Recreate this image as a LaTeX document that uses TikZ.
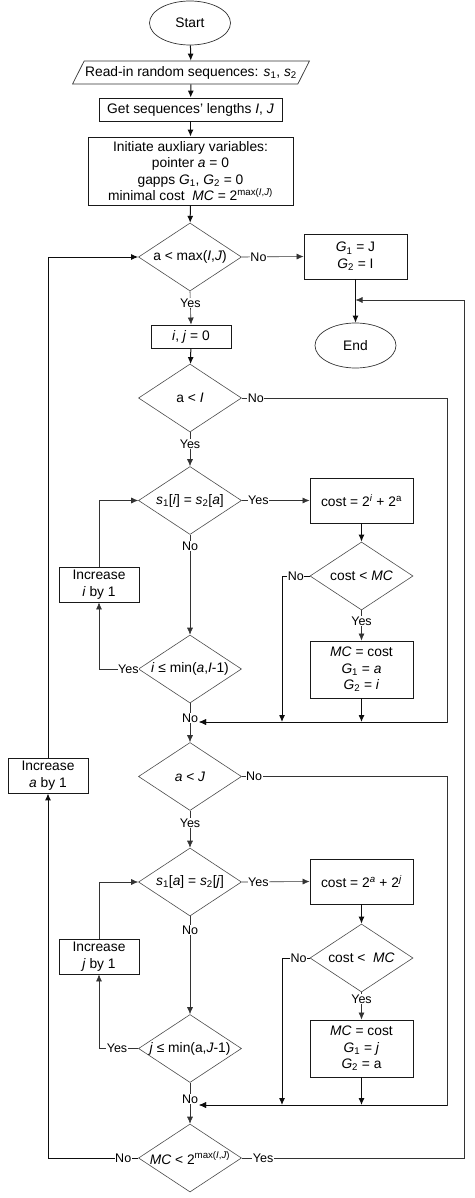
\documentclass[tikz,border=0pt]{standalone}
\usepackage{fontspec}
\setmainfont{Liberation Sans}
\usetikzlibrary{shapes.geometric,arrows.meta}
\tikzset{
  box/.style={draw=black!90, line width=0.9pt, minimum width=103pt, minimum height=45pt, align=center, inner sep=1pt},
  incbox/.style={box, minimum width=80pt, minimum height=35pt},
  dec/.style={diamond, draw=black!70, line width=0.6pt, minimum width=103pt, minimum height=68pt, inner sep=0pt},
  term/.style={ellipse, draw=black!80, line width=0.7pt, minimum width=81pt, minimum height=44pt},
  lbl/.style={fill=white, inner sep=0.6pt, font=\fontsize{12.5}{12.5}\selectfont},
  con/.style={draw=black!80, line width=0.6pt, -{Latex[length=7pt,width=6pt]}},
  thk/.style={con, draw=black!95, line width=1pt}
}
\begin{document}
\begin{tikzpicture}[x=1pt, y=-1pt, font=\fontsize{13.8}{16.5}\selectfont]
  \useasboundingbox (0,0) rectangle (474,1198);

  \node[term] (start) at (190,23) {Start};
  \node[trapezium, trapezium left angle=48, trapezium right angle=132, trapezium stretches body,
        draw=black!80, line width=0.7pt, minimum height=23pt, inner xsep=1pt, inner ysep=0pt] (read) at (191,72.5)
        {Read-in random sequences: \textit{s}\textsubscript{1}, \textit{s}\textsubscript{2}};
  \node[box, minimum width=183pt, minimum height=23pt] (len) at (190.5,109.5) {Get sequences' lengths \textit{I}, \textit{J}};
  \node[box, minimum width=205pt, minimum height=68pt] (init) at (190.5,171)
        {Initiate auxliary variables:\\ pointer \textit{a} = 0\\ gapps \textit{G}\textsubscript{1}, \textit{G}\textsubscript{2} = 0\\
         minimal cost~~\textit{MC} = 2\textsuperscript{max(\textit{I},\textit{J})}};
  \node[dec, label=center:{a < max(\textit{I},\textit{J})}] (d1) at (190,257) {};
  \node[box] (gset) at (355.5,256.5) {\textit{G}\textsubscript{1} = J\\ \textit{G}\textsubscript{2} = I};
  \node[term, minimum height=45pt] (end) at (355.5,345.5) {End};
  \node[box, minimum width=80pt, minimum height=23pt] (ij) at (191,336.5) {\textit{i}, \textit{j} = 0};

  \node[dec, label=center:{a < \textit{I}}] (d2) at (190,398) {};
  \node[dec, label=center:{\textit{s}\textsubscript{1}[\textit{i}] = \textit{s}\textsubscript{2}[\textit{a}]}] (d3) at (190,500.5) {};
  \node[box] (cost1) at (361.5,500.5) {cost = 2\textsuperscript{\textit{i}} + 2\textsuperscript{a}};
  \node[dec, label=center:{cost < \textit{MC}}] (d4) at (361.5,576) {};
  \node[box, minimum height=57pt] (upd1) at (361.5,669.5) {\textit{MC} = cost\\ \textit{G}\textsubscript{1} = \textit{a}\\ \textit{G}\textsubscript{2} = \textit{i}};
  \node[incbox] (inci) at (99,584.5) {Increase\\ \textit{i} by 1};
  \node[dec, label=center:{\textit{i} ≤ min(\textit{a},\textit{I}-1)}] (d5) at (190,669) {};

  \node[dec, label=center:{\textit{a} < \textit{J}}] (d6) at (190,776.5) {};
  \node[incbox] (inca) at (48,775.5) {Increase\\ \textit{a} by 1};
  \node[dec, label=center:{\textit{s}\textsubscript{1}[\textit{a}] = \textit{s}\textsubscript{2}[\textit{j}]}] (d7) at (190,882) {};
  \node[box] (cost2) at (361.5,881.5) {cost = 2\textsuperscript{\textit{a}} + 2\textsuperscript{\textit{j}}};
  \node[dec, label=center:{cost <~~\textit{MC}}] (d8) at (361.5,958) {};
  \node[box, minimum height=57pt] (upd2) at (361.5,1048.5) {\textit{MC} = cost\\ \textit{G}\textsubscript{1} = \textit{j}\\ \textit{G}\textsubscript{2} = a};
  \node[incbox] (incj) at (99,956.5) {Increase\\ \textit{j} by 1};
  \node[dec, label=center:{\textit{j} ≤ min(a,\textit{J}-1)}] (d9) at (190,1048.5) {};
  \node[dec, label=center:{\textit{MC} < 2\textsuperscript{max(\textit{I},\textit{J})}}] (dF) at (190,1158) {};

  \coordinate (m1) at (199,722);  \coordinate (r1) at (447,722);  \coordinate (e1) at (282,722);
  \coordinate (m2) at (199,1105); \coordinate (r2) at (447,1105); \coordinate (e2) at (282,1105);
  \coordinate (loopR) at (464,1158); \coordinate (join) at (355.5,300);

  \draw[thk] (start) -- (read);
  \draw[thk] (read) -- (len);
  \draw[thk] (len) -- (init);
  \draw[thk] (init) -- (d1);
  \draw[con] (d1.east) -- node[lbl, pos=0.27] {No} (gset.west);
  \draw[thk] (gset) -- (end);
  \draw[con] (d1.south) -- node[lbl, pos=0.35] {Yes} (ij.north);
  \draw[thk] (ij) -- (d2);
  \draw[con] (d2.east) -| node[lbl, pos=0.034] {No} (r1) -- (m1);
  \draw[con] (d2.south) -- node[lbl, pos=0.34] {Yes} (d3.north);
  \draw[con] (d3.east) -- node[lbl, pos=0.245] {Yes} (cost1.west);
  \draw[thk] (cost1) -- (d4);
  \draw[thk] (d4.west) -| node[lbl, pos=0.25] {No} (e1);
  \draw[con] (d4.south) -- node[lbl, pos=0.35] {Yes} (upd1.north);
  \draw[thk] (upd1.south) -- (upd1.south |- m1);
  \draw[thk] (r1) -- (m1);
  \draw[con] (d3.south) -- node[lbl, pos=0.11] {No} (d5.north);
  \draw[con] (d5.west) -| node[lbl, pos=0.125] {Yes} (inci.south);
  \draw[con] (inci.north) |- (d3.west);
  \draw[con] (d5.south) -- node[lbl, pos=0.375] {No} (d6.north);

  \draw[con] (d6.east) -| node[lbl, pos=0.03] {No} (r2) -- (m2);
  \draw[con] (d6.south) -- node[lbl, pos=0.34] {Yes} (d7.north);
  \draw[con] (d7.east) -- node[lbl, pos=0.245] {Yes} (cost2.west);
  \draw[thk] (cost2) -- (d8);
  \draw[thk] (d8.west) -| node[lbl, pos=0.2] {No} (e2);
  \draw[con] (d8.south) -- node[lbl, pos=0.25] {Yes} (upd2.north);
  \draw[thk] (upd2.south) -- (upd2.south |- m2);
  \draw[thk] (r2) -- (m2);
  \draw[con] (d7.south) -- node[lbl, pos=0.14] {No} (d9.north);
  \draw[con] (d9.west) -| node[lbl, pos=0.27] {Yes} (incj.south);
  \draw[con] (incj.north) |- (d7.west);
  \draw[con] (d9.south) -- node[lbl, pos=0.4] {No} (dF.north);

  \draw[thk] (dF.west) -| node[lbl, pos=0.083] {No} (inca.south);
  \draw[thk] (inca.north) |- (d1.west);
  \draw[con] (dF.east) -- node[lbl, pos=0.096] {Yes} (loopR) |- (join);
\end{tikzpicture}
\end{document}
